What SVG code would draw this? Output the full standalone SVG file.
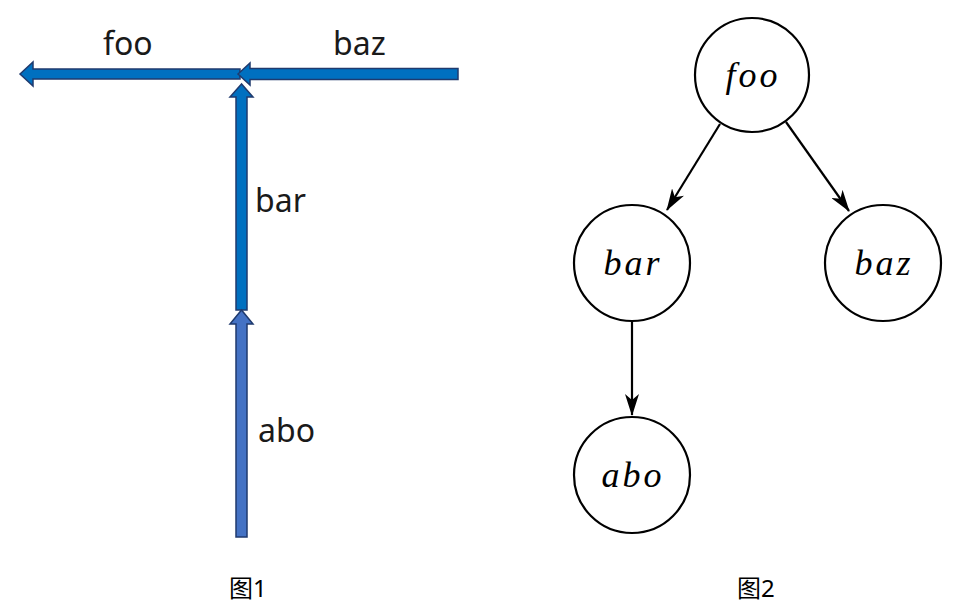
<svg xmlns="http://www.w3.org/2000/svg" width="974" height="604" viewBox="0 0 974 604">
<defs>
<style>
.blk{stroke:#1f3a6e;stroke-width:1.5;stroke-linejoin:miter}
.b1{fill:#0070c0}
.b2{fill:#4472c4}
.lbl{font-family:"Noto Sans","Noto Sans CJK SC",sans-serif;font-size:32px;fill:#1a1a1a}
.cap{font-family:"Noto Sans","Noto Sans CJK SC",sans-serif;font-size:24px;fill:#000}
.node circle{fill:#fff;stroke:#000;stroke-width:2.2}
.node text{font-family:"Liberation Serif","DejaVu Serif",serif;font-style:italic;font-size:36px;letter-spacing:3px;fill:#000;text-anchor:middle}
.edge{stroke:#000;stroke-width:2.2;fill:none;marker-end:url(#ah)}
</style>
<marker id="ah" viewBox="0 0 22 14" refX="21" refY="7" markerWidth="22" markerHeight="14" markerUnits="userSpaceOnUse" orient="auto">
<path d="M0,0 L22,7 L0,14 L6,7 Z" fill="#000"/>
</marker>
</defs>
<g id="fig1">
<g id="arrow-foo"><polygon class="blk b1" points="20,74 33,62 33,69 240,69 240,79 33,79 33,86"/></g>
<g id="arrow-baz"><polygon class="blk b1" points="238,74 250,63 250,68.5 458,68.5 458,79.5 250,79.5 250,85"/></g>
<g id="arrow-bar"><polygon class="blk b1" points="241.5,84 230,97 236,97 236,310 247,310 247,97 253,97"/></g>
<g id="arrow-abo"><polygon class="blk b2" points="241.5,310 230,324 236,324 236,537 247,537 247,324 253,324"/></g>
<text class="lbl" x="103" y="55">foo</text>
<text class="lbl" x="333" y="55">baz</text>
<text class="lbl" x="255" y="212">bar</text>
<text class="lbl" x="258" y="442">abo</text>
<text class="cap" x="229" y="597">图1</text>
</g>
<g id="connectors">
<line class="edge" x1="720" y1="124" x2="667" y2="210"/>
<line class="edge" x1="786" y1="122" x2="849" y2="211"/>
<line class="edge" x1="632" y1="321" x2="632" y2="415"/>
</g>
<g id="node-foo" class="node"><circle cx="752" cy="75" r="57"/><text x="753" y="87">foo</text></g>
<g id="node-bar" class="node"><circle cx="632" cy="263" r="58"/><text x="633" y="275">bar</text></g>
<g id="node-baz" class="node"><circle cx="883" cy="263" r="58"/><text x="884" y="275">baz</text></g>
<g id="node-abo" class="node"><circle cx="632" cy="475" r="58"/><text x="633" y="487">abo</text></g>
<text class="cap" x="737" y="597">图2</text>
</svg>
